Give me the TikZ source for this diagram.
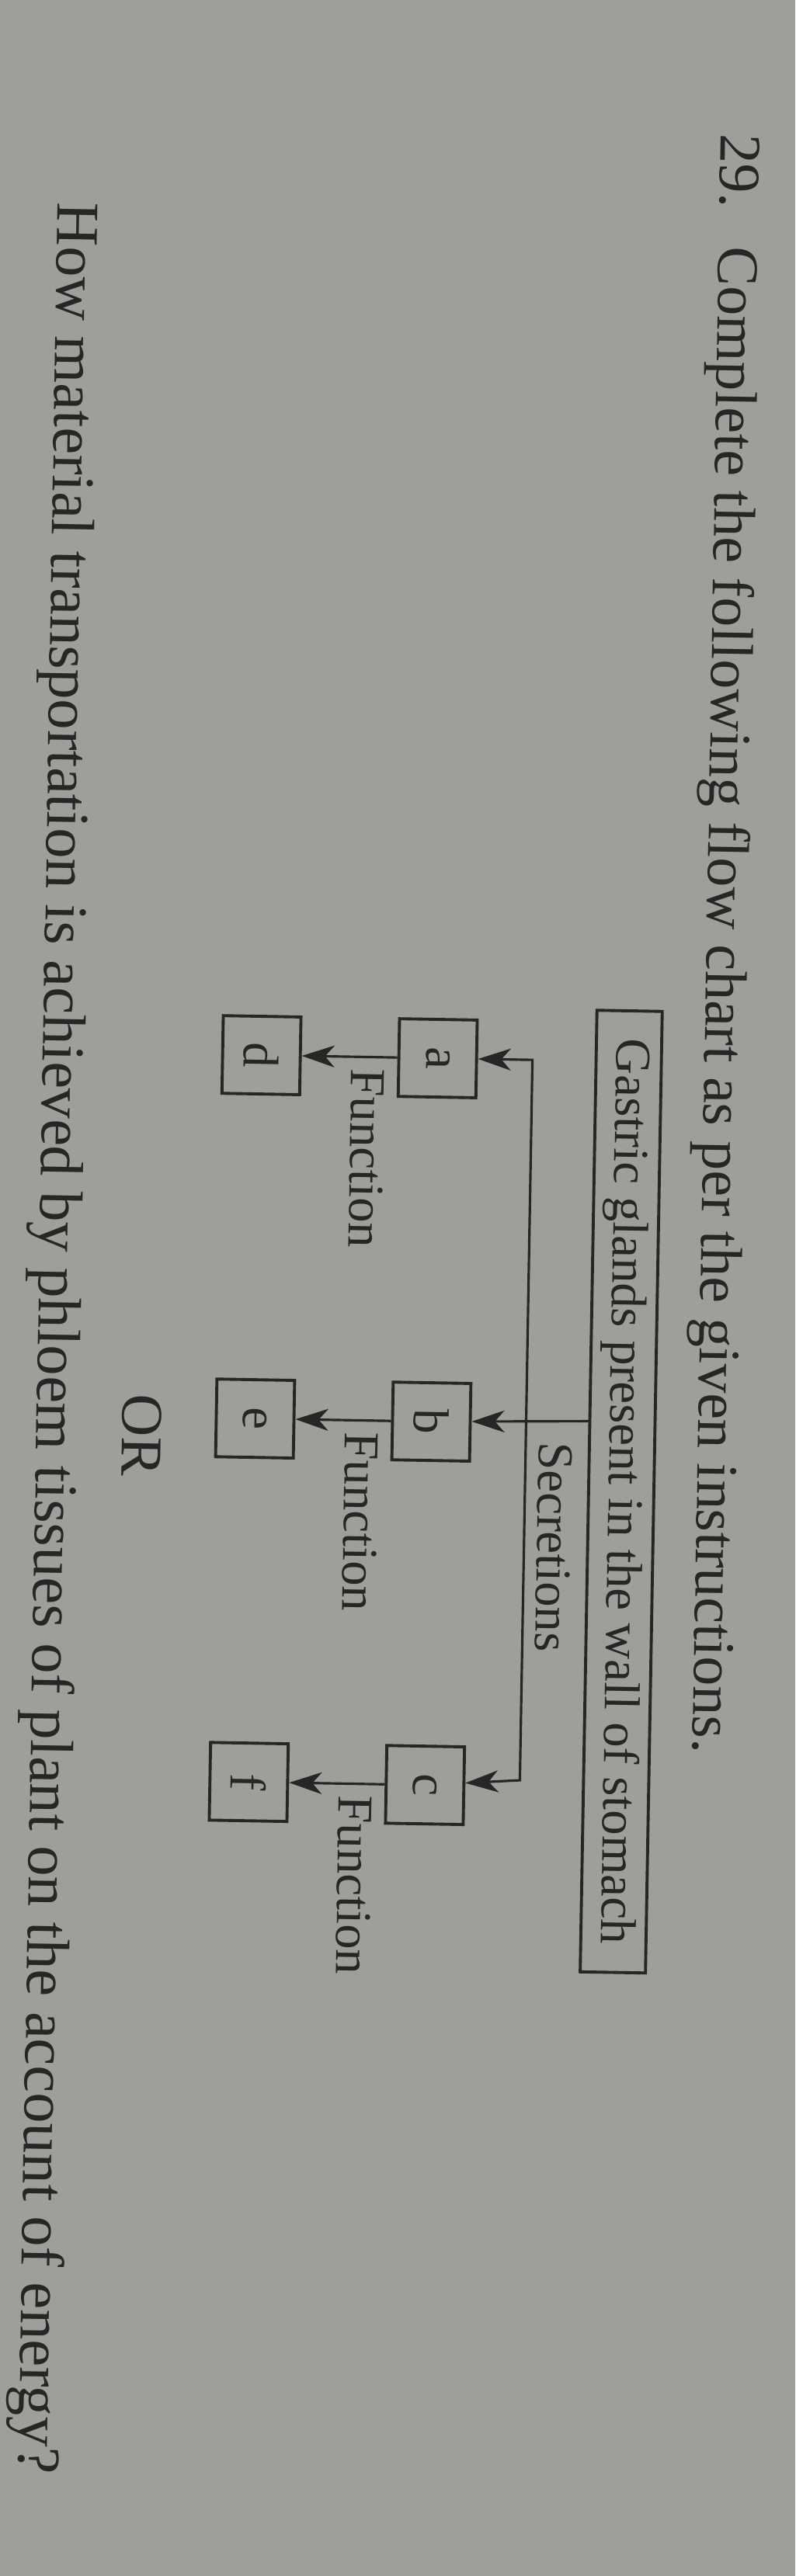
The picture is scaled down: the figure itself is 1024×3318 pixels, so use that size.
\documentclass[tikz,border=0pt]{standalone}
\usepackage{fontspec}
\setmainfont{Liberation Serif}
\usetikzlibrary{positioning,arrows.meta}

\definecolor{paper}{RGB}{158,159,155}
\definecolor{ink}{RGB}{38,38,38}
\newcommand{\chartfont}{\fontsize{18.4pt}{22pt}\selectfont}
\newcommand{\pagefont}{\fontsize{21.6pt}{26pt}\selectfont}
\newcommand{\askfont}{\fontsize{22.3pt}{27pt}\selectfont}

\tikzstyle{headBox} = [rectangle, draw=ink, line width=1.1pt, minimum width=12.38cm, minimum height=0.84cm, inner sep=1pt, text centered, font=\chartfont]
\tikzstyle{letterBox} = [rectangle, draw=ink, line width=1.1pt, minimum size=1cm, inner sep=1pt, text centered, font=\chartfont]
\tikzstyle{arrow} = [line width=0.9pt,->,>={Stealth[length=12pt,width=8pt,inset=3.5pt]}]
\tikzstyle{funcLabel} = [pos=0, anchor=north west, inner sep=4pt, font=\chartfont]

\begin{document}
\begin{tikzpicture}[x=0.01cm, y=0.01cm, color=ink]
  \fill[paper] (0,0) rectangle (1024,-3318);
  \useasboundingbox (0,0) rectangle (1024,-3318);
  \begin{scope}[rotate around={-1:(500,-1800)}, transform shape]
  \begin{scope}[rotate=-90, transform shape]
    \node (qnum)[anchor=base west, font=\pagefont] at (153,900) {29.};
    \node (title)[anchor=base west, font=\pagefont] at (298,900) {Complete the following flow chart as per the given instructions.};

    \node (glands)[headBox] at (1916,802) {Gastric glands present in the wall of stomach};
    \node (boxA)[letterBox] at (1362,556) {a};
    \node (boxB)[letterBox, right=3.64cm of boxA] {b};
    \node (boxC)[letterBox, right=3.64cm of boxB] {c};
    \node (boxD)[letterBox, below=1.23cm of boxA] {d};
    \node (boxE)[letterBox, below=1.23cm of boxB] {e};
    \node (boxF)[letterBox, below=1.23cm of boxC] {f};
    \node (secLabel)[anchor=base west, font=\chartfont] at (1842,695) {Secretions};

    \coordinate (secStart) at (1826,760);
    \coordinate (busA) at (1362,678);
    \coordinate (busC) at (2290,678);

    \draw [arrow] (secStart) -- (boxB);
    \draw [arrow, <->] (boxA) -- (busA) -- (busC) -- (boxC);
    \draw [arrow] (boxA) -- node[funcLabel]{Function} (boxD);
    \draw [arrow] (boxB) -- node[funcLabel]{Function} (boxE);
    \draw [arrow] (boxC) -- node[funcLabel]{Function} (boxF);

    \node (orLabel)[anchor=base west, font=\pagefont] at (1789,158) {OR};
    \node (question)[anchor=base west, font=\askfont] at (256,48) {How material transportation is achieved by phloem tissues of plant on the account of energy?};
  \end{scope}
  \end{scope}
\end{tikzpicture}
\end{document}
